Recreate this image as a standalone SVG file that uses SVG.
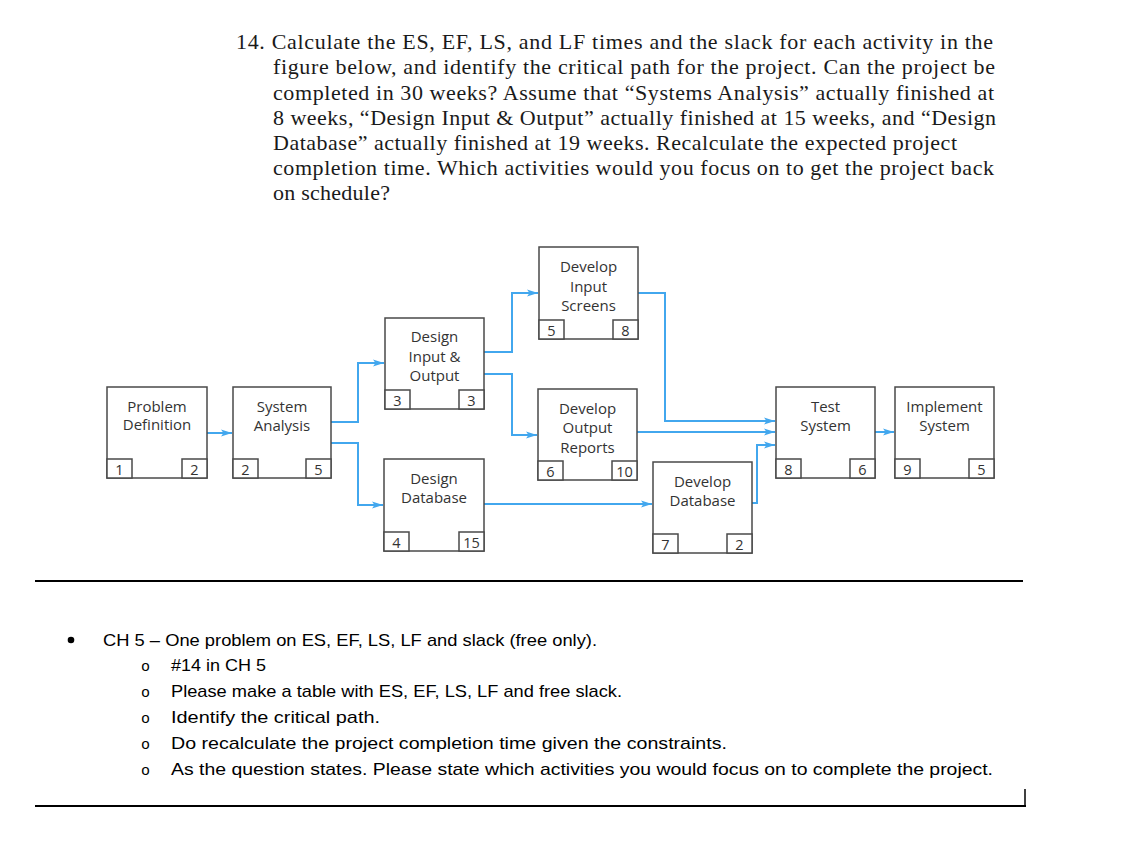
<svg xmlns="http://www.w3.org/2000/svg" width="1130" height="868" viewBox="0 0 1130 868">
<style>
.q{font-family:"Liberation Serif","Times New Roman",serif;font-size:22px;fill:#1a1a1a}
.b{stroke:#4a4a4a;stroke-width:1.5;fill:#fff}
.t{font-family:"Open Sans","DejaVu Sans",sans-serif;font-size:15px;fill:#333;text-anchor:middle}
.n{font-family:"Open Sans","DejaVu Sans",sans-serif;font-size:14.5px;fill:#333;text-anchor:middle}
.c{fill:none;stroke:#42a7ee;stroke-width:2;marker-end:url(#ah)}
.w{font-family:"Liberation Sans",Arial,sans-serif;font-size:17px;fill:#000}
.o{font-family:"Liberation Mono","Courier New",monospace;font-size:15px;fill:#000}
</style>
<defs>
<marker id="ah" markerUnits="userSpaceOnUse" markerWidth="12" markerHeight="8" refX="11" refY="4" orient="auto">
<path d="M0,0.5 L11,4 L0,7.5 L2.5,4 z" fill="#42a7ee"/>
</marker>
</defs>
<rect width="1130" height="868" fill="#fff"/>
<g id="question">
<text class="q" x="236" y="49" textLength="757" lengthAdjust="spacing">14. Calculate the ES, EF, LS, and LF times and the slack for each activity in the</text>
<text class="q" x="273" y="74" textLength="722" lengthAdjust="spacing">figure below, and identify the critical path for the project. Can the project be</text>
<text class="q" x="273" y="99.5" textLength="721" lengthAdjust="spacing">completed in 30 weeks? Assume that “Systems Analysis” actually finished at</text>
<text class="q" x="273" y="125" textLength="723" lengthAdjust="spacing">8 weeks, “Design Input &amp; Output” actually finished at 15 weeks, and “Design</text>
<text class="q" x="273" y="150" textLength="684" lengthAdjust="spacing">Database” actually finished at 19 weeks. Recalculate the expected project</text>
<text class="q" x="273" y="175" textLength="721" lengthAdjust="spacing">completion time. Which activities would you focus on to get the project back</text>
<text class="q" x="273" y="199.5" textLength="117" lengthAdjust="spacing">on schedule?</text>
</g>
<g id="connectors">
<path class="c" d="M207,433 H232"/>
<path class="c" d="M331,422 H358 V363 H384"/>
<path class="c" d="M331,443 H358 V505 H383"/>
<path class="c" d="M484,352 H512 V293 H538"/>
<path class="c" d="M484,374 H512 V435 H537"/>
<path class="c" d="M638,293 H665 V421 H775"/>
<path class="c" d="M637,432 H775"/>
<path class="c" d="M484,504 H652"/>
<path class="c" d="M752,503 H757 V445 H775"/>
<path class="c" d="M875,432 H894"/>
</g>
<g id="problem-definition">
<rect class="b" x="107" y="387" width="100" height="91"/>
<rect class="b" x="107" y="459" width="25" height="19"/>
<rect class="b" x="182" y="459" width="25" height="19"/>
<text class="t" x="157" y="412">Problem</text>
<text class="t" x="157" y="430">Definition</text>
<text class="n" x="119.5" y="474.5">1</text>
<text class="n" x="194.5" y="474.5">2</text>
</g>
<g id="system-analysis">
<rect class="b" x="233" y="387" width="98" height="91"/>
<rect class="b" x="233" y="459" width="25" height="19"/>
<rect class="b" x="306" y="459" width="25" height="19"/>
<text class="t" x="282" y="412">System</text>
<text class="t" x="282" y="431">Analysis</text>
<text class="n" x="245.5" y="474.5">2</text>
<text class="n" x="318.5" y="474.5">5</text>
</g>
<g id="design-input-output">
<rect class="b" x="385" y="318" width="99" height="91"/>
<rect class="b" x="385" y="390" width="25" height="19"/>
<rect class="b" x="459" y="390" width="25" height="19"/>
<text class="t" x="434.5" y="342">Design</text>
<text class="t" x="434.5" y="361.5">Input &amp;</text>
<text class="t" x="434.5" y="381">Output</text>
<text class="n" x="397.5" y="405.5">3</text>
<text class="n" x="471.5" y="405.5">3</text>
</g>
<g id="develop-input-screens">
<rect class="b" x="539" y="247" width="99" height="92"/>
<rect class="b" x="539" y="320" width="25" height="19"/>
<rect class="b" x="613" y="320" width="25" height="19"/>
<text class="t" x="588.5" y="272">Develop</text>
<text class="t" x="588.5" y="291.5">Input</text>
<text class="t" x="588.5" y="311">Screens</text>
<text class="n" x="551.5" y="335.5">5</text>
<text class="n" x="625.5" y="335.5">8</text>
</g>
<g id="develop-output-reports">
<rect class="b" x="538" y="389" width="99" height="91"/>
<rect class="b" x="538" y="461" width="25" height="19"/>
<rect class="b" x="612" y="461" width="25" height="19"/>
<text class="t" x="587.5" y="414">Develop</text>
<text class="t" x="587.5" y="433">Output</text>
<text class="t" x="587.5" y="452.5">Reports</text>
<text class="n" x="550.5" y="476.5">6</text>
<text class="n" x="624.5" y="476.5">10</text>
</g>
<g id="design-database">
<rect class="b" x="384" y="459" width="100" height="92"/>
<rect class="b" x="384" y="532" width="25" height="19"/>
<rect class="b" x="459" y="532" width="25" height="19"/>
<text class="t" x="434" y="484">Design</text>
<text class="t" x="434" y="503">Database</text>
<text class="n" x="396.5" y="547.5">4</text>
<text class="n" x="471.5" y="547.5">15</text>
</g>
<g id="develop-database">
<rect class="b" x="653" y="462" width="99" height="91"/>
<rect class="b" x="653" y="534" width="25" height="19"/>
<rect class="b" x="727" y="534" width="25" height="19"/>
<text class="t" x="702.5" y="487">Develop</text>
<text class="t" x="702.5" y="506">Database</text>
<text class="n" x="665.5" y="549.5">7</text>
<text class="n" x="739.5" y="549.5">2</text>
</g>
<g id="test-system">
<rect class="b" x="776" y="387" width="99" height="91"/>
<rect class="b" x="776" y="459" width="25" height="19"/>
<rect class="b" x="850" y="459" width="25" height="19"/>
<text class="t" x="825.5" y="412">Test</text>
<text class="t" x="825.5" y="431">System</text>
<text class="n" x="788.5" y="474.5">8</text>
<text class="n" x="862.5" y="474.5">6</text>
</g>
<g id="implement-system">
<rect class="b" x="895" y="387" width="99" height="91"/>
<rect class="b" x="895" y="459" width="25" height="19"/>
<rect class="b" x="969" y="459" width="25" height="19"/>
<text class="t" x="944.5" y="412">Implement</text>
<text class="t" x="944.5" y="431">System</text>
<text class="n" x="907.5" y="474.5">9</text>
<text class="n" x="981.5" y="474.5">5</text>
</g>
<g id="notes">
<line x1="35" y1="581" x2="1023" y2="581" stroke="#000" stroke-width="2"/>
<circle cx="71" cy="640" r="3.3" fill="#000"/>
<text class="w" x="103" y="646" textLength="494" lengthAdjust="spacingAndGlyphs">CH 5 – One problem on ES, EF, LS, LF and slack (free only).</text>
<text class="o" x="141" y="671">o</text>
<text class="w" x="171" y="671" textLength="95" lengthAdjust="spacingAndGlyphs">#14 in CH 5</text>
<text class="o" x="141" y="697">o</text>
<text class="w" x="171" y="697" textLength="451" lengthAdjust="spacingAndGlyphs">Please make a table with ES, EF, LS, LF and free slack.</text>
<text class="o" x="141" y="723">o</text>
<text class="w" x="171" y="723" textLength="209" lengthAdjust="spacingAndGlyphs">Identify the critical path.</text>
<text class="o" x="141" y="749">o</text>
<text class="w" x="171" y="749" textLength="556" lengthAdjust="spacingAndGlyphs">Do recalculate the project completion time given the constraints.</text>
<text class="o" x="141" y="775">o</text>
<text class="w" x="171" y="775" textLength="822" lengthAdjust="spacingAndGlyphs">As the question states. Please state which activities you would focus on to complete the project.</text>
<line x1="35" y1="806" x2="1026" y2="806" stroke="#000" stroke-width="2"/>
<line x1="1025" y1="789" x2="1025" y2="807" stroke="#000" stroke-width="1.5"/>
</g>
</svg>
